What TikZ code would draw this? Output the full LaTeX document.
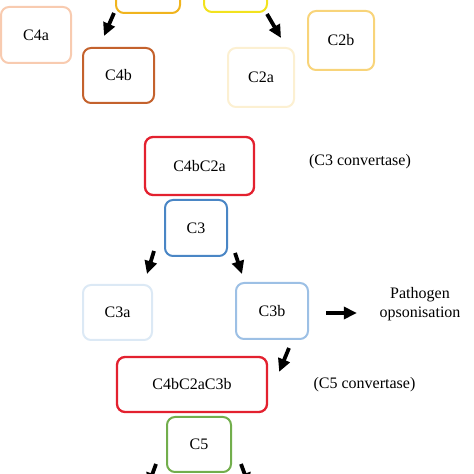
\documentclass[tikz,border=0pt]{standalone}
\usepackage{fontspec}
\setmainfont{Liberation Serif}
\usetikzlibrary{calc,arrows.meta}
\definecolor{ctopa}{HTML}{F0B41E}
\definecolor{ctopb}{HTML}{F2E21E}
\definecolor{cfoura}{HTML}{F8CBB0}
\definecolor{cfourb}{HTML}{C4622D}
\definecolor{ctwob}{HTML}{F8D47A}
\definecolor{ctwoa}{HTML}{FCF0D2}
\definecolor{cred}{HTML}{E3212F}
\definecolor{cthree}{HTML}{4A86C5}
\definecolor{cthreea}{HTML}{DCE9F5}
\definecolor{cthreeb}{HTML}{9DC0E5}
\definecolor{cfive}{HTML}{72AE4C}
\tikzset{
  box/.style={draw, rounded corners=8pt, line width=2pt, inner sep=0pt, font=\fontsize{16}{19}\selectfont},
  lbl/.style={inner sep=0pt, font=\fontsize{16}{19}\selectfont, align=center},
  arr/.style={-{Triangle[length=13pt,width=12pt]}, line width=3.8pt, black},
}
\begin{document}
\begin{tikzpicture}[x=1pt,y=1pt]
\useasboundingbox (0,0) rectangle (474,474);
\clip (0,0) rectangle (474,474);
\node[box, draw=ctopa, minimum width=64pt, minimum height=55pt] (top1) at (148,488.5) {};
\node[box, draw=ctopb, minimum width=63pt, minimum height=55pt] (top2) at (235.5,489.5) {};
\node[box, draw=cfoura, minimum width=70pt, minimum height=56pt] (c4a) at (36,439) {C4a};
\node[box, draw=cfourb, minimum width=71pt, minimum height=55pt] (c4b) at (118.5,398.5) {C4b};
\node[box, draw=ctwob, minimum width=66pt, minimum height=59pt] (c2b) at (341,433.5) {C2b};
\node[box, draw=ctwoa, minimum width=66pt, minimum height=59pt] (c2a) at (261,396.5) {C2a};
\node[box, draw=cred, line width=2.3pt, minimum width=109pt, minimum height=58pt] (c4bc2a) at (199.5,308) {C4bC2a};
\node[lbl] (conv3) at (360,312) {(C3 convertase)};
\node[box, draw=cthree, minimum width=62pt, minimum height=56pt] (c3) at (196,246) {C3};
\node[box, draw=cthreea, minimum width=69pt, minimum height=55pt] (c3a) at (117.5,161.5) {C3a};
\node[box, draw=cthreeb, minimum width=72pt, minimum height=56pt] (c3b) at (272,163) {C3b};
\node[lbl] (path) at (420,170) {Pathogen\\opsonisation};
\node[box, draw=cred, line width=2.3pt, minimum width=150pt, minimum height=55pt] (c5conv) at (192,89.5) {C4bC2aC3b};
\node[lbl] (conv5) at (364.5,89) {(C5 convertase)};
\node[box, draw=cfive, minimum width=64pt, minimum height=55pt] (c5) at (199,29.5) {C5};
\draw[arr] ($(top1.south west)+(-1,1)$) -- ($(c4b.north west)+(22,11)$);
\draw[arr] ($(top2.south east)+(-1,-1)$) -- ($(c2a.north east)+(-14,9)$);
\draw[arr] ($(c3.south west)+(-10,6)$) -- ($(c3a.north east)+(-6,10)$);
\draw[arr] ($(c3.south east)+(7,4)$) -- ($(c3b.north west)+(7,8)$);
\draw[arr] ($(c3b.east)+(17,-2)$) -- ($(path.west)+(-22.5,-9)$);
\draw[arr] ($(c3b.south east)+(-20,-8)$) -- ($(c5conv.north east)+(11,-16)$);
\draw[arr] ($(c5.south west)+(-10,9)$) -- ($(c5.south west)+(-18,-13)$);
\draw[arr] ($(c5.south east)+(9,9)$) -- ($(c5.south east)+(17,-13)$);
\end{tikzpicture}
\end{document}
